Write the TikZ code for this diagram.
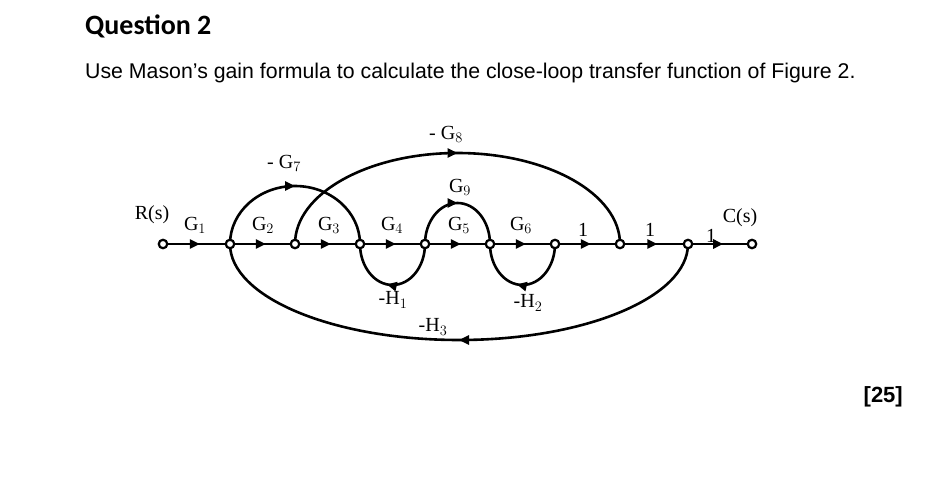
\documentclass[tikz,border=0pt]{standalone}
\usepackage{fontspec}
\setmainfont{Liberation Serif}
\newfontfamily\arialf{Liberation Sans}
\newfontfamily\calf{Carlito}
\usetikzlibrary{decorations.markings,arrows.meta}
\begin{document}
\begin{tikzpicture}[x=1pt,y=-1pt,
  flow/.style={line width=2.6pt,postaction={decorate},decoration={markings,mark=at position #1 with {\arrow{Triangle[length=10pt,width=9pt]}}}},
  flow/.default=0.55,
  sn/.style={circle,draw,line width=2.2pt,fill=white,inner sep=0pt,minimum size=8.5pt},
  lbl/.style={font=\fontsize{20}{20}\selectfont,inner sep=0pt}]
\useasboundingbox (0,0) rectangle (926,484);
\node[anchor=west,font=\calf\bfseries\fontsize{28}{28}\selectfont,inner sep=0pt] (title) at (85,26) {Question 2};
\node[anchor=west,font=\arialf\fontsize{21.3}{21.3}\selectfont,inner sep=0pt] (q) at (85,73) {Use Mason’s gain formula to calculate the close-loop transfer function of Figure 2.};
\node[anchor=east,font=\arialf\bfseries\fontsize{22}{22}\selectfont,inner sep=0pt] (mk) at (903,397) {[25]};
\foreach \i/\x in {1/163,2/230,3/295,4/360,5/425,6/490,7/555,8/620,9/688,10/752}
  \coordinate (n\i) at (\x,244);
\draw[flow] (n1)--(n2); \draw[flow] (n2)--(n3); \draw[flow] (n3)--(n4);
\draw[flow] (n4)--(n5); \draw[flow] (n5)--(n6); \draw[flow] (n6)--(n7);
\draw[flow] (n7)--(n8); \draw[flow] (n8)--(n9); \draw[flow] (n9)--(n10);
\draw[flow=0.5] (n2) arc[start angle=180,end angle=360,x radius=65,y radius=58];
\draw[flow=0.5] (n3) arc[start angle=180,end angle=360,x radius=162.5,y radius=91];
\draw[flow=0.5] (n5) arc[start angle=180,end angle=360,x radius=32.5,y radius=41];
\draw[flow=0.55] (n5) arc[start angle=0,end angle=180,x radius=32.5,y radius=41];
\draw[flow=0.55] (n7) arc[start angle=0,end angle=180,x radius=32.5,y radius=41];
\draw[flow=0.5] (n9) arc[start angle=0,end angle=180,x radius=229,y radius=96];
\foreach \i in {1,...,10} \node[sn] (c\i) at (n\i) {};
\node[lbl] (lr) at (152,215) {R(s)};
\node[lbl] (lc) at (740,218) {C(s)};
\node[lbl] (g1) at (195,225) {G$_1$};
\node[lbl] (g2) at (263,225) {G$_2$};
\node[lbl] (g3) at (329,225) {G$_3$};
\node[lbl] (g4) at (392,225) {G$_4$};
\node[lbl] (g5) at (459,225) {G$_5$};
\node[lbl] (g6) at (521,225) {G$_6$};
\node[lbl] (o1) at (583,230) {1};
\node[lbl] (o2) at (650,230) {1};
\node[lbl] (o3) at (711,236) {1};
\node[lbl] (g7) at (284,163) {- G$_7$};
\node[lbl] (g8) at (446,134) {- G$_8$};
\node[lbl] (g9) at (460,187) {G$_9$};
\node[lbl] (h1) at (393,300) {-H$_1$};
\node[lbl] (h2) at (528,303) {-H$_2$};
\node[lbl] (h3) at (433,327) {-H$_3$};
\end{tikzpicture}
\end{document}
